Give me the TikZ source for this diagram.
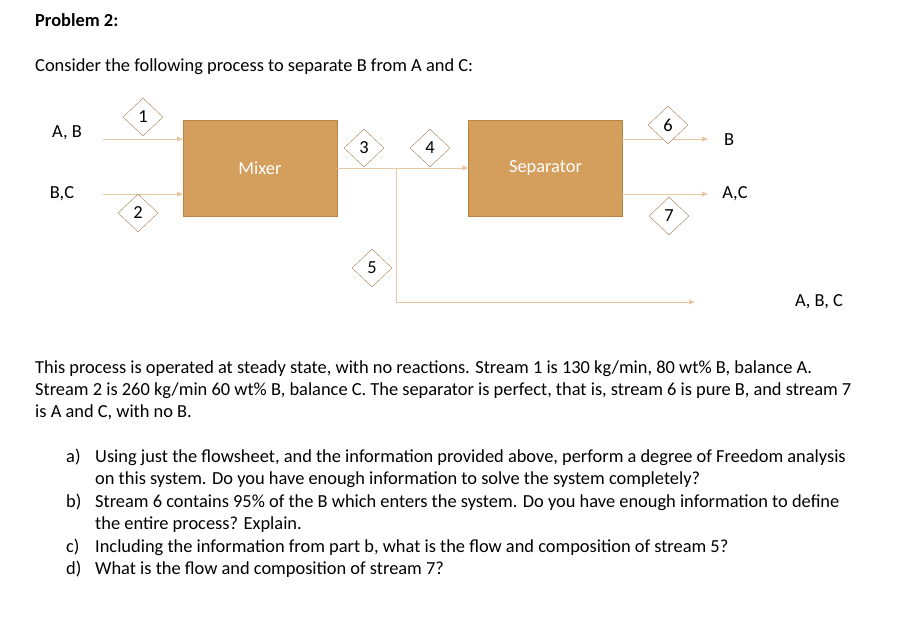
\documentclass[tikz,border=0pt]{standalone}
\usepackage{fontspec}
\setmainfont{Carlito}
\usetikzlibrary{shapes.geometric,arrows.meta}
\definecolor{boxfill}{HTML}{D49E5D}
\definecolor{boxline}{HTML}{B98446}
\definecolor{flow}{HTML}{E6C9A4}
\definecolor{dline}{HTML}{A27B50}
\newcommand{\fs}{\fontsize{18.4}{22}\selectfont}
\begin{document}
\begin{tikzpicture}[x=1pt,y=-1pt,
  unit/.style={draw=boxline,fill=boxfill,minimum width=154pt,minimum height=96pt,text=white,font=\fs,inner sep=0},
  tag/.style={diamond,draw=dline,fill=white,minimum width=40pt,minimum height=38pt,inner sep=0,font=\fs},
  flowline/.style={draw=flow,line width=0.9pt,-{Triangle[length=6pt,width=5pt]}},
  lab/.style={font=\fs,inner sep=0},
  txt/.style={anchor=base west,font=\fs,inner sep=0}]
\useasboundingbox (0,0) rectangle (905,619);
\node[unit] (mixer) at (260,168) {Mixer};
\node[unit] (sep) at (545.5,168) {Separator};
\coordinate (inAB) at (103,139);
\coordinate (inBC) at (103,194);
\coordinate (mixAB) at (183,139);
\coordinate (mixBC) at (183,194);
\coordinate (j) at (396,168);
\coordinate (jd) at (396,302);
\coordinate (outABC) at (695,302);
\coordinate (sB) at (622,139);
\coordinate (sAC) at (622,194);
\coordinate (oB) at (708,139);
\coordinate (oAC) at (708,194);
\draw[flowline] (inAB) -- (mixAB);
\draw[flowline] (inBC) -- (mixBC);
\draw[flowline] (mixer.east) -- (sep.west);
\draw[flowline] (j) -- (jd) -- (outABC);
\draw[flowline] (sB) -- (oB);
\draw[flowline] (sAC) -- (oAC);
\node[tag] (t1) at (143,117) {1};
\node[tag] (t2) at (138,213) {2};
\node[tag] (t3) at (364,148) {3};
\node[tag] (t4) at (430,148) {4};
\node[tag] (t5) at (372,268) {5};
\node[tag] (t6) at (668,125) {6};
\node[tag] (t7) at (669,216) {7};
\node[lab] (lAB) at (67,133) {A, B};
\node[lab] (lBC) at (62,194) {B,C};
\node[lab] (lB) at (729,140) {B};
\node[lab] (lAC) at (735,194) {A,C};
\node[lab] (lABC) at (819,302) {A, B, C};
\node[txt,font=\bfseries\fs] (title) at (35,26) {Problem 2:};
\node[txt] (intro) at (35,71) {Consider the following process to separate B from A and C:};
\node[txt] (p1) at (35,373) {This process is operated at steady state, with no reactions. Stream 1 is 130 kg/min, 80 wt\% B, balance A.};
\node[txt] (p2) at (35,395) {Stream 2 is 260 kg/min 60 wt\% B, balance C. The separator is perfect, that is, stream 6 is pure B, and stream 7};
\node[txt] (p3) at (35,417) {is A and C, with no B.};
\node[txt] (a) at (66,462) {a)};
\node[txt] (a1) at (95,462) {Using just the flowsheet, and the information provided above, perform a degree of Freedom analysis};
\node[txt] (a2) at (95,484) {on this system. Do you have enough information to solve the system completely?};
\node[txt] (b) at (66,507) {b)};
\node[txt] (b1) at (95,507) {Stream 6 contains 95\% of the B which enters the system. Do you have enough information to define};
\node[txt] (b2) at (95,529) {the entire process? Explain.};
\node[txt] (c) at (66,552) {c)};
\node[txt] (c1) at (95,552) {Including the information from part b, what is the flow and composition of stream 5?};
\node[txt] (d) at (66,574) {d)};
\node[txt] (d1) at (95,574) {What is the flow and composition of stream 7?};
\end{tikzpicture}
\end{document}
